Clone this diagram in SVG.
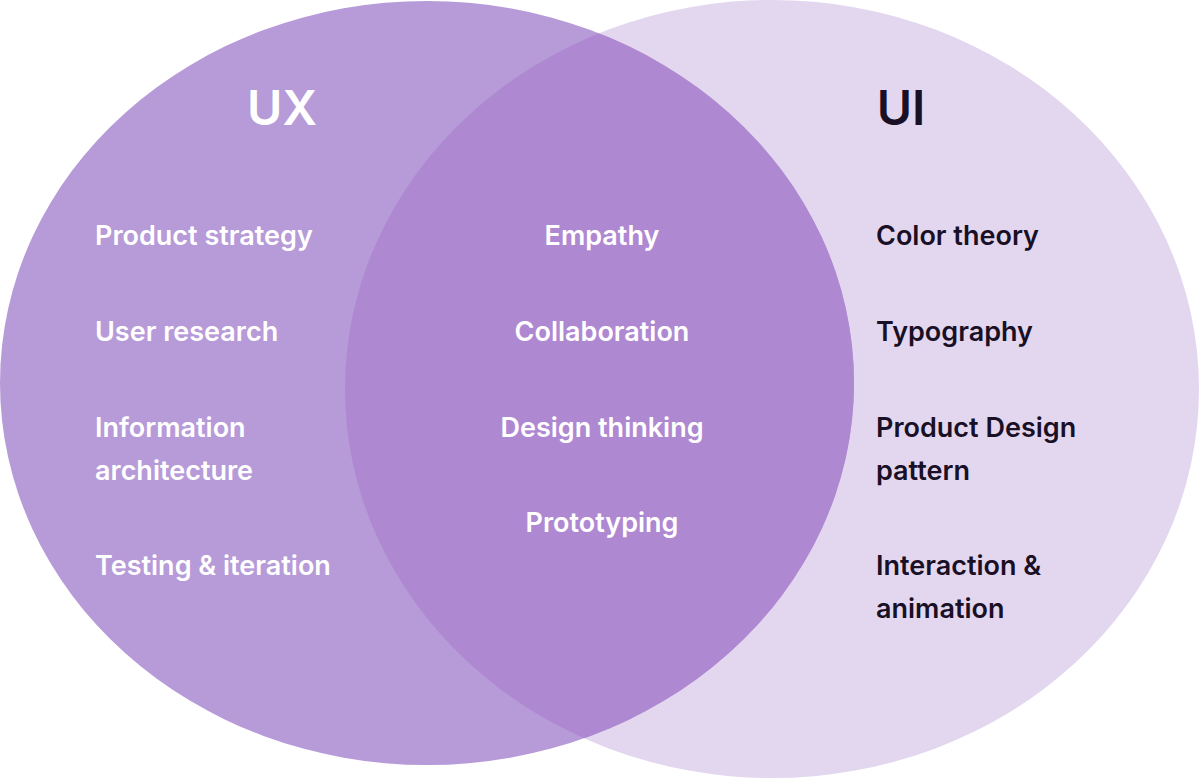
<svg xmlns="http://www.w3.org/2000/svg" width="1200" height="779" viewBox="0 0 1200 779">
<style>
text{font-family:Inter,"Noto Sans",sans-serif;font-weight:600;font-size:27px}
.w{fill:#ffffff}.d{fill:#1a1026}
.h{font-size:48px}
</style>
<defs><clipPath id="cl"><ellipse cx="427" cy="383" rx="427" ry="382"/></clipPath></defs>
<rect width="1200" height="779" fill="#ffffff"/>
<g id="ui-circle"><ellipse cx="772" cy="389" rx="427" ry="389" fill="#E3D7F0"/></g>
<g id="ux-circle"><ellipse cx="427" cy="383" rx="427" ry="382" fill="#B79AD8"/></g>
<g id="overlap"><ellipse cx="772" cy="389" rx="427" ry="389" fill="#AF88D2" clip-path="url(#cl)"/></g>
<g id="ux-labels" class="w">
<text class="h" x="282" y="125" text-anchor="middle">UX</text>
<text x="95" y="245">Product strategy</text>
<text x="95" y="341">User research</text>
<text x="95" y="437">Information</text>
<text x="95" y="480">architecture</text>
<text x="95" y="575">Testing &amp; iteration</text>
</g>
<g id="overlap-labels" class="w" text-anchor="middle">
<text x="602" y="245">Empathy</text>
<text x="602" y="341">Collaboration</text>
<text x="602" y="437">Design thinking</text>
<text x="602" y="532">Prototyping</text>
</g>
<g id="ui-labels" class="d">
<text class="h" x="901" y="125" text-anchor="middle">UI</text>
<text x="876" y="245">Color theory</text>
<text x="876" y="341">Typography</text>
<text x="876" y="437">Product Design</text>
<text x="876" y="480">pattern</text>
<text x="876" y="575">Interaction &amp;</text>
<text x="876" y="618">animation</text>
</g>
<g id="connectors"/>
</svg>
